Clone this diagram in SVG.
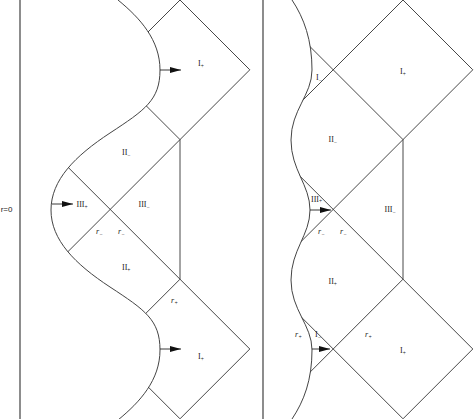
<svg xmlns="http://www.w3.org/2000/svg" width="474" height="419" viewBox="0 0 474 419">
<style>
.ln{fill:none;stroke:#333;stroke-width:0.9}
.ax{fill:none;stroke:#707070;stroke-width:1.6}
.sh{fill:none;stroke:#444;stroke-width:1}
.ar{fill:none;stroke:#222;stroke-width:0.9;marker-end:url(#ah)}
.lbl{font-family:"Liberation Serif",serif;font-size:8px;fill:#222}
.it{font-style:italic}
.sub{font-size:5.5px}
.ax0{font-family:"Liberation Sans",sans-serif;font-size:8px;fill:#222}
</style>
<defs>
<marker id="ah" viewBox="0 0 11 6" refX="11" refY="3" markerWidth="11" markerHeight="6" markerUnits="userSpaceOnUse" orient="auto">
<path d="M0,0 L11,3 L0,6 Z" fill="#111"/>
</marker>
<clipPath id="clipL"><path d="M118,0 C140,18 160,40 160,70 C160,100 145,110 110,133 C75,156 51,180 51,210 C51,240 75,264 110,287 C145,310 160,320 160,350 C160,380 140,402 118,420 L262,420 L262,0 Z"/></clipPath>
<clipPath id="clipR"><path d="M292,0 C304,18 312,40 312,70 C312,95 291,110 291,140 C291,170 310,185 310,210 C310,235 291,250 291,280 C291,310 312,325 312,350 C312,380 304,401 292,419 L474,419 L474,0 Z"/></clipPath>
</defs>

<g id="axis-left">
<line class="ax" x1="20" y1="0" x2="20" y2="419"/>
<text class="ax0" x="12.5" y="212" text-anchor="end">r=0</text>
</g>
<g id="axis-right">
<line class="ax" x1="263" y1="0" x2="263" y2="419"/>
</g>

<g id="shell-left">
<path class="sh" d="M118,0 C140,18 160,40 160,70 C160,100 145,110 110,133 C75,156 51,180 51,210 C51,240 75,264 110,287 C145,310 160,320 160,350 C160,380 140,402 118,420"/>
</g>
<g id="shell-right">
<path class="sh" d="M292,0 C304,18 312,40 312,70 C312,95 291,110 291,140 C291,170 310,185 310,210 C310,235 291,250 291,280 C291,310 312,325 312,350 C312,380 304,401 292,419"/>
</g>

<g id="horizons-left" clip-path="url(#clipL)">
<path class="ln" d="M180,0 L130,50"/>
<path class="ln" d="M180,0 L249.8,69.8 L60,259.6"/>
<path class="ln" d="M130,89.6 L180,139.6"/>
<path class="ln" d="M60.2,159.4 L249.8,349 L180,418.8"/>
<path class="ln" d="M180,279.2 L130,329.2"/>
<path class="ln" d="M130,368.8 L180,418.8"/>
<path class="ln" d="M180,139.6 L180,279.2"/>
</g>

<g id="horizons-right" clip-path="url(#clipR)">
<path class="ln" d="M403,0 L283,120"/>
<path class="ln" d="M403,0 L472.8,69.8 L283,259.6"/>
<path class="ln" d="M293,29.6 L403,139.6"/>
<path class="ln" d="M283.2,159.4 L472.8,349 L403,418.8"/>
<path class="ln" d="M403,279.2 L283,399.2"/>
<path class="ln" d="M283,298.8 L403,418.8"/>
<path class="ln" d="M403,139.6 L403,279.2"/>
</g>

<g id="connectors">
<line class="ar" x1="160" y1="70" x2="181" y2="70"/>
<line class="ar" x1="51.5" y1="204" x2="73" y2="204"/>
<line class="ar" x1="160" y1="349" x2="181" y2="349"/>
<line class="ar" x1="310" y1="210" x2="331" y2="210"/>
<line class="ar" x1="312" y1="349" x2="330" y2="349"/>
</g>

<g id="label-L-Iplus-top"><text class="lbl" x="198" y="66">I<tspan class="sub" dy="1.5">+</tspan></text></g>
<g id="label-L-IIminus"><text class="lbl" x="122" y="155">II<tspan class="sub" dy="1.5">−</tspan></text></g>
<g id="label-L-IIIplus"><text class="lbl" x="76.5" y="207">III<tspan class="sub" dy="1.5">+</tspan></text></g>
<g id="label-L-IIIminus"><text class="lbl" x="138.5" y="207">III<tspan class="sub" dy="1.5">−</tspan></text></g>
<g id="label-L-rminus-1"><text class="lbl it" x="96" y="234">r<tspan class="sub" dy="1.5">−</tspan></text></g>
<g id="label-L-rminus-2"><text class="lbl it" x="118" y="234">r<tspan class="sub" dy="1.5">−</tspan></text></g>
<g id="label-L-IIplus"><text class="lbl" x="122" y="270">II<tspan class="sub" dy="1.5">+</tspan></text></g>
<g id="label-L-rplus"><text class="lbl it" x="171" y="303">r<tspan class="sub" dy="1.5">+</tspan></text></g>
<g id="label-L-Iplus-bot"><text class="lbl" x="198" y="359">I<tspan class="sub" dy="1.5">+</tspan></text></g>

<g id="label-R-Iplus-top"><text class="lbl" x="400" y="74">I<tspan class="sub" dy="1.5">+</tspan></text></g>
<g id="label-R-Iminus-top"><text class="lbl" x="316" y="80">I<tspan class="sub" dy="1.5">−</tspan></text></g>
<g id="label-R-IIminus"><text class="lbl" x="328.5" y="142">II<tspan class="sub" dy="1.5">−</tspan></text></g>
<g id="label-R-IIIplus"><text class="lbl" x="311" y="201.5">III<tspan class="sub" dy="1.5">+</tspan></text></g>
<g id="label-R-IIIminus"><text class="lbl" x="384.5" y="212">III<tspan class="sub" dy="1.5">−</tspan></text></g>
<g id="label-R-rminus-1"><text class="lbl it" x="318" y="234">r<tspan class="sub" dy="1.5">−</tspan></text></g>
<g id="label-R-rminus-2"><text class="lbl it" x="340" y="234">r<tspan class="sub" dy="1.5">−</tspan></text></g>
<g id="label-R-IIplus"><text class="lbl" x="328.5" y="284">II<tspan class="sub" dy="1.5">+</tspan></text></g>
<g id="label-R-rplus-1"><text class="lbl it" x="295" y="337">r<tspan class="sub" dy="1.5">+</tspan></text></g>
<g id="label-R-Iminus-bot"><text class="lbl" x="315" y="337">I<tspan class="sub" dy="1.5">−</tspan></text></g>
<g id="label-R-rplus-2"><text class="lbl it" x="365" y="337">r<tspan class="sub" dy="1.5">+</tspan></text></g>
<g id="label-R-Iplus-bot"><text class="lbl" x="400" y="353">I<tspan class="sub" dy="1.5">+</tspan></text></g>
</svg>
